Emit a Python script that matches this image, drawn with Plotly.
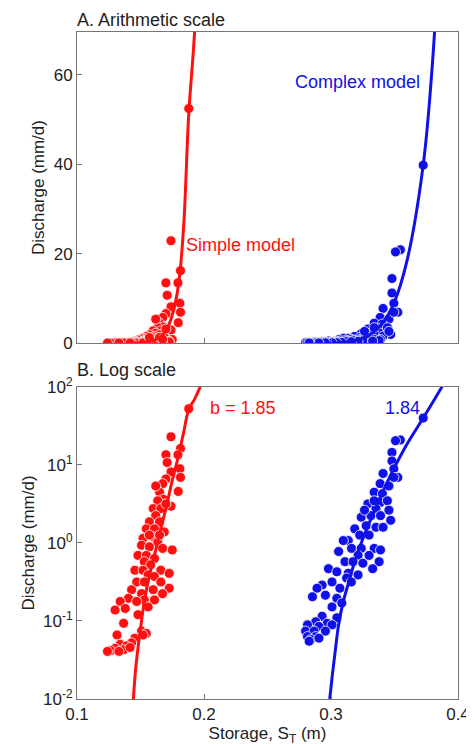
import numpy as np
import plotly.graph_objects as go

# Simple model observations (storage m, discharge mm/d)
red_S = [0.188,0.174,0.1815,0.170,0.1795,0.181,0.1815,0.174,0.170,0.1675,0.165,0.1797,0.168,0.1636,0.174,0.160,0.166,0.162,0.157,0.165,0.1546,0.161,0.1687,0.152,0.160,0.1636,0.1508,0.157,0.175,0.148,0.1546,0.161,0.153,0.158,0.1456,0.152,0.166,0.1726,0.156,0.161,0.147,0.153,0.166,0.1726,0.143,0.160,0.1508,0.1674,0.1405,0.153,0.161,0.134,0.147,0.130,0.138,0.156,0.148,0.1367,0.1508,0.1546,0.1315,0.1456,0.143,0.134,0.139,0.130,0.1367,0.1264,0.133,0.1418,0.124,0.152,0.165,0.170,0.1674,0.157,0.162,0.171]
red_logQ = [1.72,1.36,1.21,1.13,1.13,0.95,0.84,0.91,0.82,0.76,0.65,0.66,0.56,0.54,0.47,0.44,0.44,0.35,0.27,0.27,0.18,0.18,0.14,0.06,0.08,0.01,-0.03,-0.05,-0.09,-0.16,-0.16,-0.20,-0.24,-0.28,-0.35,-0.35,-0.35,-0.39,-0.41,-0.43,-0.50,-0.50,-0.50,-0.58,-0.60,-0.60,-0.65,-0.65,-0.71,-0.73,-0.73,-0.75,-0.75,-0.86,-0.84,-0.82,-0.92,-1.03,-1.13,-1.16,-1.18,-1.22,-1.28,-1.30,-1.32,-1.35,-1.37,-1.38,-1.39,-1.34,-1.39,-1.18,0.10,0.50,-0.07,0.10,0.73,1.03]

# Complex model observations
blue_S = [0.3726,0.3546,0.3508,0.348,0.348,0.3495,0.341,0.3526,0.3387,0.3456,0.334,0.3405,0.329,0.339,0.347,0.3354,0.3238,0.3315,0.339,0.3187,0.3277,0.3354,0.341,0.3136,0.3226,0.330,0.3097,0.306,0.3162,0.3238,0.334,0.339,0.3213,0.330,0.3379,0.311,0.3174,0.3251,0.3328,0.298,0.3046,0.3136,0.3213,0.3123,0.293,0.3008,0.307,0.289,0.2854,0.2956,0.316,0.3046,0.3008,0.3085,0.293,0.3046,0.288,0.297,0.2815,0.2905,0.3008,0.280,0.2867,0.2956,0.2815,0.288,0.284,0.2905,0.2828,0.3495,0.3444,0.334,0.3264,0.3456]
blue_logQ = [1.6,1.32,1.31,1.16,1.05,0.95,0.89,0.84,0.76,0.73,0.65,0.63,0.50,0.52,0.29,0.44,0.33,0.35,0.35,0.18,0.22,0.20,0.20,0.03,0.10,0.10,0.03,-0.11,-0.07,-0.07,-0.07,-0.09,-0.16,-0.16,-0.24,-0.24,-0.24,-0.26,-0.33,-0.33,-0.37,-0.39,-0.41,-0.45,-0.54,-0.50,-0.58,-0.58,-0.69,-0.67,-0.50,-0.71,-0.82,-0.77,-0.94,-0.96,-1.01,-1.03,-1.05,-1.07,-1.05,-1.13,-1.13,-1.13,-1.20,-1.20,-1.24,-1.22,-1.26,0.84,0.54,0.54,0.42,0.42]

# Fitted curves
red_curve_S = [0.1444,0.146,0.148,0.150,0.153,0.157,0.161,0.1655,0.170,0.175,0.180,0.184,0.188,0.1925,0.197]
red_curve_logQ = [-2.0,-1.65,-1.35,-1.1,-0.75,-0.42,-0.16,0.15,0.44,0.80,1.12,1.42,1.71,1.84,2.0]
blue_curve_S = [0.299,0.301,0.3033,0.306,0.3097,0.314,0.3187,0.325,0.3315,0.340,0.3495,0.360,0.3726,0.380,0.3874]
blue_curve_logQ = [-2.0,-1.7,-1.39,-1.05,-0.75,-0.5,-0.24,0.05,0.31,0.63,0.95,1.27,1.6,1.8,2.0]

RED = "#ff1010"
BLUE = "#1010e8"
FONT = "Liberation Sans, Arial, sans-serif"
red_Q = [10**v for v in red_logQ]
blue_Q = [10**v for v in blue_logQ]
red_cQ = [10**v for v in red_curve_logQ]
blue_cQ = [10**v for v in blue_curve_logQ]

fig = go.Figure()
mk = lambda c: dict(color=c, size=10, line=dict(color="white", width=0.8))
for xa, ya in [("x", "y"), ("x2", "y2")]:
    fig.add_trace(go.Scatter(x=red_S, y=red_Q, mode="markers", marker=mk(RED), xaxis=xa, yaxis=ya))
    fig.add_trace(go.Scatter(x=blue_S, y=blue_Q, mode="markers", marker=mk(BLUE), xaxis=xa, yaxis=ya))
    fig.add_trace(go.Scatter(x=red_curve_S, y=red_cQ, mode="lines", line=dict(color=RED, width=3, shape="spline"), xaxis=xa, yaxis=ya))
    fig.add_trace(go.Scatter(x=blue_curve_S, y=blue_cQ, mode="lines", line=dict(color=BLUE, width=3, shape="spline"), xaxis=xa, yaxis=ya))

ax = dict(showline=True, mirror=True, linecolor="#777", linewidth=1, ticks="inside",
          ticklen=5, tickcolor="#777", showgrid=False, zeroline=False,
          tickfont=dict(family=FONT, size=17, color="#222"))
fig.update_layout(
    width=474, height=744, showlegend=False, plot_bgcolor="white", paper_bgcolor="white",
    margin=dict(l=69, r=15, t=20, b=53),
    font=dict(family=FONT, size=17, color="#222"),
    xaxis=dict(**ax, range=[0.1, 0.4], tickvals=[0.1, 0.2, 0.3, 0.4], anchor="y",
               title=dict(text="Storage, S<sub>T</sub> (m)", standoff=2, font=dict(family=FONT, size=17))),
    yaxis=dict(**ax, type="log", range=[-2, 2], domain=[0, 0.468], anchor="x",
               tickvals=[0.01, 0.1, 1, 10, 100],
               ticktext=["10<sup>-2</sup>", "10<sup>-1</sup>", "10<sup>0</sup>", "10<sup>1</sup>", "10<sup>2</sup>"],
               title=dict(text="Discharge (mm/d)", standoff=4, font=dict(family=FONT, size=17))),
    xaxis2=dict(**ax, range=[0.1, 0.4], tickvals=[0.1, 0.2, 0.3, 0.4], showticklabels=False, anchor="y2"),
    yaxis2=dict(**ax, range=[0, 69.6], domain=[0.5335, 1], anchor="x2", tickvals=[0, 20, 40, 60],
                title=dict(text="Discharge (mm/d)", standoff=4, font=dict(family=FONT, size=17))),
)
def ann(text, x, y, color="#222", xref="paper", yref="paper"):
    fig.add_annotation(text=text, x=x, y=y, xref=xref, yref=yref, showarrow=False,
                       xanchor="left", yanchor="middle", font=dict(family=FONT, size=18, color=color))
ann("A. Arithmetic scale", -0.005, 1.018)
ann("B. Log scale", -0.005, 0.494)
ann("Simple model", 0.184, 22, RED, "x2", "y2")
ann("Complex model", 0.27, 58.5, BLUE, "x2", "y2")
ann("b = 1.85", 0.203, np.log10(53), RED, "x", "y")
ann("1.84", 0.341, np.log10(53), BLUE, "x", "y")
fig.write_html("out.html")
